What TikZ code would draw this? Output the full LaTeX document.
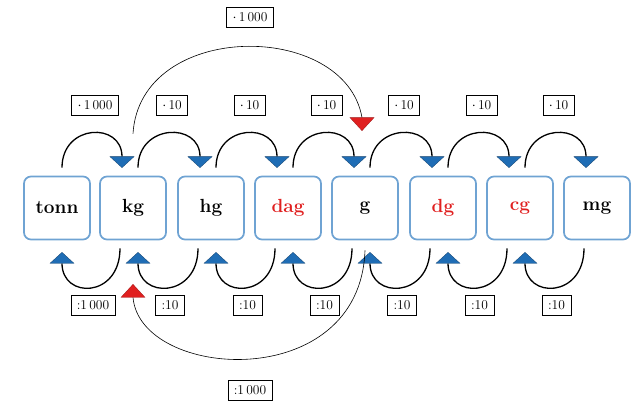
\documentclass[tikz,border=0pt]{standalone}
\usetikzlibrary{calc}
\definecolor{boxc}{HTML}{6FA3D3}
\definecolor{trib}{HTML}{1F6DB5}
\definecolor{redt}{HTML}{E02020}
\begin{document}
\begin{tikzpicture}[x=1pt,y=-1pt,
  unit/.style={draw=boxc,line width=1.7pt,rounded corners=7pt,minimum width=66pt,minimum height=63pt,font=\bfseries\fontsize{19}{22}\selectfont},
  lab/.style={draw,line width=0.5pt,inner xsep=6pt,inner ysep=3pt,minimum height=20pt,font=\fontsize{13.5}{15}\selectfont},
  arc/.style={line width=1.3pt},
  tri/.style={fill=trib,draw=trib!60!black,line width=0.3pt}]
\useasboundingbox (0,0) rectangle (640,411);
\foreach \n/\x/\t/\c in {1/57/tonn/black,2/133/kg/black,3/211/hg/black,4/288/dag/redt,5/365/g/black,6/443/dg/redt,7/520/cg/redt,8/597/mg/black}{
  \node[unit,text=\c] (b\n) at (\x,208) {\t};
}
% top arcs and labels
\foreach \i/\j/\l in {1/2/{$\cdot$\,1\,000},2/3/{$\cdot$\,10},3/4/{$\cdot$\,10},4/5/{$\cdot$\,10},5/6/{$\cdot$\,10},6/7/{$\cdot$\,10},7/8/{$\cdot$\,10}}{
  \coordinate (s\i) at ($(b\i.north)+(5,-8)$);
  \coordinate (e\i) at ($(b\j.north)+(-11,-19)$);
  \draw[arc] (s\i) .. controls ($(s\i)+(0,-44)$) and ($(e\i)+(0,-35)$) .. (e\i);
  \fill[tri] ($(e\i)+(-12,0)$) -- ($(e\i)+(12,0)$) -- ($(e\i)+(0,11)$) -- cycle;
  \node[lab] (t\i) at ($(b\i.north)!0.5!(b\j.north)+(0,-70)$) {\l};
}
% bottom arcs and labels
\foreach \i/\j/\l in {1/2/{:1\,000},2/3/{:10},3/4/{:10},4/5/{:10},5/6/{:10},6/7/{:10},7/8/{:10}}{
  \coordinate (p\i) at ($(b\j.south)+(-13,8)$);
  \coordinate (q\i) at ($(b\i.south)+(5,23)$);
  \draw[arc] (p\i) .. controls ($(p\i)+(0,50)$) and ($(q\i)+(0,36)$) .. (q\i);
  \fill[tri] ($(q\i)+(-12,0)$) -- ($(q\i)+(12,0)$) -- ($(q\i)+(0,-11)$) -- cycle;
  \node[lab] (u\i) at ($(b\i.south)!0.5!(b\j.south)+(-2,65)$) {\l};
}
% big arcs
\coordinate (bs) at ($(b2.north)+(0,-42)$);
\coordinate (be) at ($(b5.north)+(-3,-58)$);
\draw[line width=0.6pt] (bs) .. controls (140,20) and (345,20) .. (be);
\fill[redt,draw=redt!70!black,line width=0.3pt] ($(be)+(-12,0)$) -- ($(be)+(12,0)$) -- ($(be)+(0,13)$) -- cycle;
\node[lab] (bt) at (250,17) {$\cdot$\,1\,000};
\coordinate (cs) at ($(b5.south)+(0,10)$);
\coordinate (ce) at ($(b2.south)+(0,57)$);
\draw[line width=0.6pt] (cs) .. controls (360,395) and (140,380) .. (ce);
\fill[redt,draw=redt!70!black,line width=0.3pt] ($(ce)+(-12,0)$) -- ($(ce)+(12,0)$) -- ($(ce)+(0,-13)$) -- cycle;
\node[lab] (bb) at (250,390) {:1\,000};
\end{tikzpicture}
\end{document}
